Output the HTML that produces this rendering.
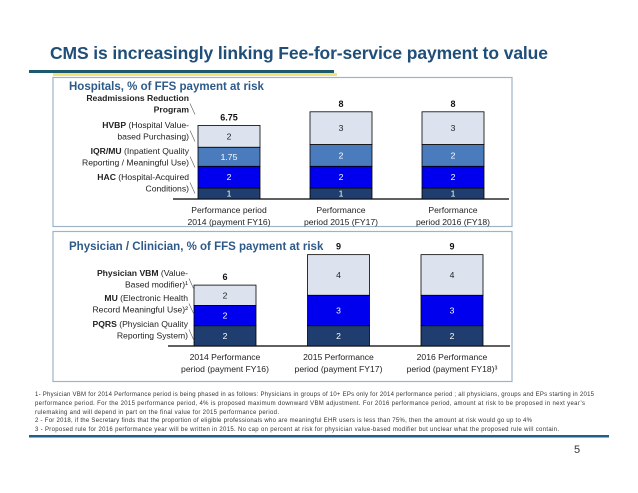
<!DOCTYPE html>
<html><head><meta charset="utf-8">
<style>
html,body{margin:0;padding:0;background:#fff;}
svg{display:block;font-family:"Liberation Sans",sans-serif;}
.lbl{font-size:8.6px;fill:#222;text-anchor:end;}
.xl{font-size:8.6px;fill:#222;text-anchor:middle;}
.fn{font-size:6px;fill:#333;}
</style></head>
<body>
<svg id="slide" width="638" height="493" viewBox="0 0 638 493">
  <text x="50" y="59" font-size="17.5" font-weight="bold" fill="#1f4e79" textLength="498">CMS is increasingly linking Fee-for-service payment to value</text>
  <rect x="53" y="73" width="284" height="3" fill="#f2e27a"/>
  <rect x="29" y="70" width="305" height="3" fill="#1e5a6e"/>

  <rect x="53" y="77.5" width="459" height="149" fill="none" stroke="#9fb3c8" stroke-width="1.2"/>
  <text x="69" y="90" font-size="11.5" font-weight="bold" fill="#2e5a8a">Hospitals, % of FFS payment at risk</text>
  <g id="hosp"></g>

  <rect x="53" y="231.5" width="459" height="150" fill="none" stroke="#9fb3c8" stroke-width="1.2"/>
  <text x="69" y="250" font-size="11.5" font-weight="bold" fill="#2e5a8a">Physician / Clinician, % of FFS payment at risk</text>
  <g id="phys"></g>

  <g>
    <text class="fn" x="35" y="396" textLength="559">1- Physician VBM for 2014 Performance period is being phased in as follows:  Physicians in groups of 10+ EPs only for 2014 performance period ; all physicians, groups and EPs starting in 2015</text>
    <text class="fn" x="35" y="405" textLength="550">performance period.  For the 2015 performance period,  4% is proposed maximum downward VBM adjustment.  For 2016 performance period, amount at risk to be proposed in next year’s</text>
    <text class="fn" x="35" y="414" textLength="244">rulemaking and will depend in part on the final value for 2015 performance period.</text>
    <text class="fn" x="35" y="422" textLength="497">2 - For 2018, if the Secretary finds that the proportion of eligible professionals who are meaningful EHR users is less than 75%, then the amount at risk would go up to 4%</text>
    <text class="fn" x="35" y="431" textLength="524">3 - Proposed rule for 2016 performance year will be written in 2015.  No cap on percent at risk for physician value-based modifier but unclear  what the proposed rule will contain.</text>
  </g>
  <rect x="29" y="435" width="580" height="2.5" fill="#1f5f8b"/>
  <text x="574" y="453" font-size="11" fill="#333">5</text>
</svg>
<script>
const NS="http://www.w3.org/2000/svg";
const hospCategories=[["Performance period","2014 (payment FY16)"],["Performance","period 2015 (FY17)"],["Performance","period 2016 (FY18)"]];
const hospHAC=[1,1,1];
const hospIQR=[2,2,2];
const hospHVBP=[1.75,2,2];
const hospRRP=[2,3,3];
const hospTotals=["6.75","8","8"];
const physCategories=[["2014 Performance","period (payment FY16)"],["2015 Performance","period (payment FY17)"],["2016 Performance","period (payment FY18)³"]];
const physPQRS=[2,2,2];
const physMU=[2,3,3];
const physVBM=[2,4,4];
const physTotals=["6","9","9"];
const colors=["#1f3d6e","#0000ee","#4a7bbd","#dde3ee"];
const txtColors=["#fff","#fff","#fff","#222"];

function mk(tag,attrs,parent){const e=document.createElementNS(NS,tag);for(const k in attrs)e.setAttribute(k,attrs[k]);parent.appendChild(e);return e;}

function drawChart(g,cfg){
  const y=v=>cfg.base-v*cfg.unit;
  const x=i=>cfg.x0+i*cfg.step;
  const ax=mk('line',{x1:cfg.axL,x2:cfg.axR,y1:cfg.base,y2:cfg.base,stroke:'#000','stroke-width':1.3},g);
  
  
  cfg.cats.forEach((c,i)=>{
    let acc=0;
    cfg.series.forEach((s,j)=>{
      const v=s.vals[i];
      const r=mk('rect',{x:x(i),y:y(acc+v),width:cfg.bw,height:v*cfg.unit,fill:colors[cfg.colorIdx[j]],stroke:'#000','stroke-width':0.8},g);
      
      
      const t=mk('text',{x:x(i)+cfg.bw/2,y:y(acc+v/2)+3,'font-size':8.6,'text-anchor':'middle',fill:txtColors[cfg.colorIdx[j]]},g);
      t.textContent=v;
      
      
      acc+=v;
    });
    const tt=mk('text',{x:x(i)+cfg.bw/2,y:y(acc)-5,'font-size':9,'font-weight':'bold','text-anchor':'middle',fill:'#111'},g);
    tt.textContent=cfg.totals[i];
    
    
    c.forEach((line,k)=>{
      const xl=mk('text',{x:x(i)+cfg.bw/2,y:cfg.base+14+k*12,class:'xl'},g);
      xl.textContent=line;
      
      
    });
  });
  cfg.legend.forEach(L=>{
    L.lines.forEach((ln,k)=>{
      const t=mk('text',{x:cfg.lx,y:L.y+k*11.5,class:'lbl'},g);
      if(ln[0]){const b=mk('tspan',{'font-weight':'bold'},t);b.textContent=ln[0];}
      const r=mk('tspan',{},t);r.textContent=ln[1];
      
      
    });
    const sl=mk('line',{x1:cfg.lx+1,y1:L.y+11.5*(L.lines.length-1)-9,x2:cfg.lx+6,y2:L.y+11.5*(L.lines.length-1)+2,stroke:'#555','stroke-width':0.6},g);
    
    
  });
}

drawChart(document.getElementById('hosp'),{
  base:199,unit:10.9,x0:198,step:112,bw:62,axL:173,axR:509,lx:189,
  cats:hospCategories,totals:hospTotals,colorIdx:[0,1,2,3],
  series:[{name:'hac',vals:hospHAC},{name:'iqr-mu',vals:hospIQR},{name:'hvbp',vals:hospHVBP},{name:'readmissions',vals:hospRRP}],
  legend:[
    {name:'readmissions',y:101,lines:[["Readmissions Reduction",""],["Program",""]]},
    {name:'hvbp',y:128,lines:[["HVBP"," (Hospital Value-"],["","based Purchasing)"]]},
    {name:'iqr-mu',y:154,lines:[["IQR/MU"," (Inpatient Quality"],["","Reporting / Meaningful Use)"]]},
    {name:'hac',y:180,lines:[["HAC"," (Hospital-Acquired"],["","Conditions)"]]}
  ]
});
drawChart(document.getElementById('phys'),{
  base:346,unit:10.15,x0:194,step:113.5,bw:62,axL:168,axR:510,lx:188,
  cats:physCategories,totals:physTotals,colorIdx:[0,1,3],
  series:[{name:'pqrs',vals:physPQRS},{name:'mu',vals:physMU},{name:'physician-vbm',vals:physVBM}],
  legend:[
    {name:'physician-vbm',y:276,lines:[["Physician VBM"," (Value-"],["","Based modifier)¹"]]},
    {name:'mu',y:301,lines:[["MU"," (Electronic Health"],["","Record Meaningful Use)²"]]},
    {name:'pqrs',y:327,lines:[["PQRS"," (Physician Quality"],["","Reporting System)"]]}
  ]
});
</script>
</body></html>
